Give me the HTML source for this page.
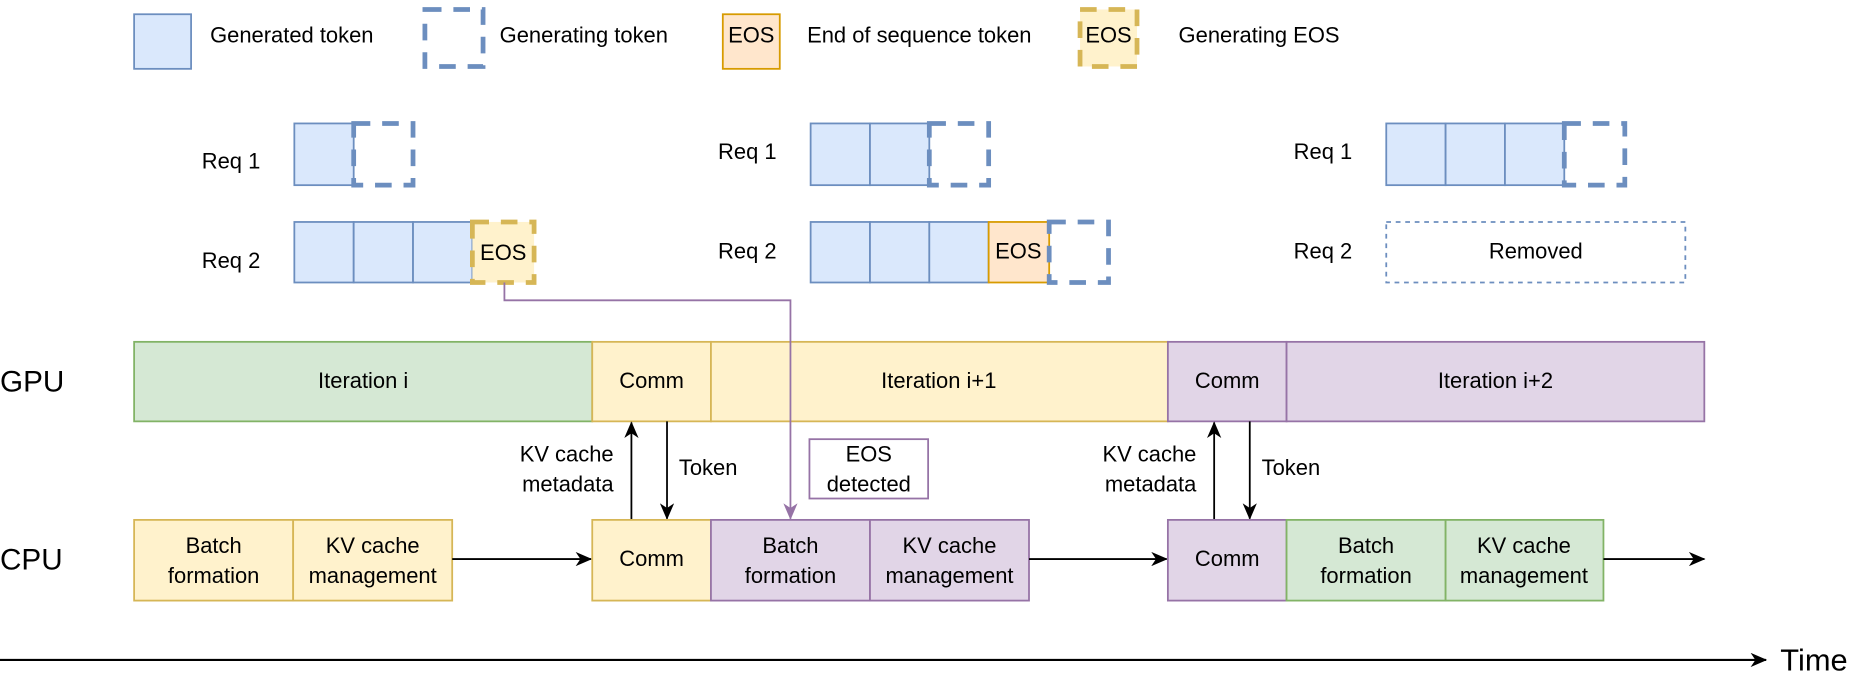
<!DOCTYPE html>
<html><head><meta charset="utf-8"><style>
html,body{margin:0;padding:0;background:#fff;width:1861px;height:673px;overflow:hidden}
svg{display:block}
text{font-family:"Liberation Sans",Arial,sans-serif;font-size:18.5px;fill:#000}
</style></head><body>
<svg width="1861" height="673" viewBox="0 0 1568 567" preserveAspectRatio="none" xmlns="http://www.w3.org/2000/svg">
<defs>
<marker id="ah" markerWidth="14" markerHeight="12" refX="13" refY="6" orient="auto" markerUnits="userSpaceOnUse"><path d="M0,0 L14,6 L0,12 L4,6 z" fill="#000"/></marker>
<marker id="ahp" markerWidth="14" markerHeight="12" refX="13" refY="6" orient="auto" markerUnits="userSpaceOnUse"><path d="M0,0 L14,6 L0,12 L4,6 z" fill="#9673a6"/></marker>
</defs>
<!-- legend -->
<rect x="113" y="12" width="48" height="46" fill="#dae8fc" stroke="#6c8ebf" stroke-width="1.5"/>
<text x="177" y="36">Generated token</text>
<rect x="358" y="8" width="49" height="48" fill="none" stroke="#6c8ebf" stroke-width="4" stroke-dasharray="14 10"/>
<text x="421" y="36">Generating token</text>
<rect x="609" y="12" width="48" height="46" fill="#ffe6cc" stroke="#d79b00" stroke-width="1.5"/>
<text x="633" y="36" text-anchor="middle">EOS</text>
<text x="680" y="36">End of sequence token</text>
<rect x="910" y="8" width="48" height="48" fill="#fff2cc" stroke="#d6b656" stroke-width="4" stroke-dasharray="14 10"/>
<text x="934" y="36" text-anchor="middle">EOS</text>
<text x="993" y="36">Generating EOS</text>

<!-- column 1 -->
<text x="170" y="142">Req 1</text>
<rect x="248" y="104" width="50" height="52" fill="#dae8fc" stroke="#6c8ebf" stroke-width="1.5"/>
<rect x="298" y="104" width="50" height="52" fill="none" stroke="#6c8ebf" stroke-width="4" stroke-dasharray="14 10"/>
<text x="170" y="226">Req 2</text>
<rect x="248" y="187" width="50" height="51" fill="#dae8fc" stroke="#6c8ebf" stroke-width="1.5"/>
<rect x="298" y="187" width="50" height="51" fill="#dae8fc" stroke="#6c8ebf" stroke-width="1.5"/>
<rect x="348" y="187" width="50" height="51" fill="#dae8fc" stroke="#6c8ebf" stroke-width="1.5"/>
<rect x="398" y="187" width="52" height="51" fill="#fff2cc" stroke="#d6b656" stroke-width="4" stroke-dasharray="14 10"/>
<text x="424" y="219" text-anchor="middle">EOS</text>

<!-- column 2 -->
<text x="605" y="134">Req 1</text>
<rect x="683" y="104" width="50" height="52" fill="#dae8fc" stroke="#6c8ebf" stroke-width="1.5"/>
<rect x="733" y="104" width="50" height="52" fill="#dae8fc" stroke="#6c8ebf" stroke-width="1.5"/>
<rect x="783" y="104" width="50" height="52" fill="none" stroke="#6c8ebf" stroke-width="4" stroke-dasharray="14 10"/>
<text x="605" y="218">Req 2</text>
<rect x="683" y="187" width="50" height="51" fill="#dae8fc" stroke="#6c8ebf" stroke-width="1.5"/>
<rect x="733" y="187" width="50" height="51" fill="#dae8fc" stroke="#6c8ebf" stroke-width="1.5"/>
<rect x="783" y="187" width="50" height="51" fill="#dae8fc" stroke="#6c8ebf" stroke-width="1.5"/>
<rect x="833" y="187" width="51" height="51" fill="#ffe6cc" stroke="#d79b00" stroke-width="1.5"/>
<text x="858" y="218" text-anchor="middle">EOS</text>
<rect x="884" y="187" width="50" height="51" fill="none" stroke="#6c8ebf" stroke-width="4" stroke-dasharray="14 10"/>

<!-- column 3 -->
<text x="1090" y="134">Req 1</text>
<rect x="1168" y="104" width="50" height="52" fill="#dae8fc" stroke="#6c8ebf" stroke-width="1.5"/>
<rect x="1218" y="104" width="50" height="52" fill="#dae8fc" stroke="#6c8ebf" stroke-width="1.5"/>
<rect x="1268" y="104" width="50" height="52" fill="#dae8fc" stroke="#6c8ebf" stroke-width="1.5"/>
<rect x="1318" y="104" width="51" height="52" fill="none" stroke="#6c8ebf" stroke-width="4" stroke-dasharray="14 10"/>
<text x="1090" y="218">Req 2</text>
<rect x="1168" y="187" width="252" height="51" fill="none" stroke="#6c8ebf" stroke-width="1.5" stroke-dasharray="4 4"/>
<text x="1294" y="218" text-anchor="middle">Removed</text>

<!-- GPU -->
<text x="0" y="330" style="font-size:25px">GPU</text>
<rect x="113" y="288" width="386" height="67" fill="#d5e8d4" stroke="#82b366" stroke-width="1.5"/>
<text x="306" y="327" text-anchor="middle">Iteration i</text>
<rect x="499" y="288" width="100" height="67" fill="#fff2cc" stroke="#d6b656" stroke-width="1.5"/>
<text x="549" y="327" text-anchor="middle">Comm</text>
<rect x="599" y="288" width="385" height="67" fill="#fff2cc" stroke="#d6b656" stroke-width="1.5"/>
<text x="791" y="327" text-anchor="middle">Iteration i+1</text>
<rect x="984" y="288" width="100" height="67" fill="#e1d5e7" stroke="#9673a6" stroke-width="1.5"/>
<text x="1034" y="327" text-anchor="middle">Comm</text>
<rect x="1084" y="288" width="352" height="67" fill="#e1d5e7" stroke="#9673a6" stroke-width="1.5"/>
<text x="1260" y="327" text-anchor="middle">Iteration i+2</text>

<!-- purple connector -->
<path d="M425,238 V253 H666 V437" fill="none" stroke="#9673a6" stroke-width="1.5" marker-end="url(#ahp)"/>

<!-- middle arrows -->
<line x1="532" y1="438" x2="532" y2="356" stroke="#000" stroke-width="1.5" marker-end="url(#ah)"/>
<line x1="562" y1="355" x2="562" y2="437" stroke="#000" stroke-width="1.5" marker-end="url(#ah)"/>
<text x="517" y="389" text-anchor="end">KV cache</text>
<text x="517" y="414" text-anchor="end">metadata</text>
<text x="572" y="400">Token</text>
<rect x="682" y="370" width="100" height="50" fill="#fff" stroke="#9673a6" stroke-width="1.5"/>
<text x="732" y="389" text-anchor="middle">EOS</text>
<text x="732" y="414" text-anchor="middle">detected</text>
<line x1="1023" y1="438" x2="1023" y2="356" stroke="#000" stroke-width="1.5" marker-end="url(#ah)"/>
<line x1="1053" y1="355" x2="1053" y2="437" stroke="#000" stroke-width="1.5" marker-end="url(#ah)"/>
<text x="1008" y="389" text-anchor="end">KV cache</text>
<text x="1008" y="414" text-anchor="end">metadata</text>
<text x="1063" y="400">Token</text>

<!-- CPU -->
<text x="0" y="480" style="font-size:25px">CPU</text>
<rect x="113" y="438" width="134" height="68" fill="#fff2cc" stroke="#d6b656" stroke-width="1.5"/>
<text x="180" y="466" text-anchor="middle">Batch</text><text x="180" y="491" text-anchor="middle">formation</text>
<rect x="247" y="438" width="134" height="68" fill="#fff2cc" stroke="#d6b656" stroke-width="1.5"/>
<text x="314" y="466" text-anchor="middle">KV cache</text><text x="314" y="491" text-anchor="middle">management</text>
<line x1="381" y1="471" x2="498" y2="471" stroke="#000" stroke-width="1.5" marker-end="url(#ah)"/>
<rect x="499" y="438" width="100" height="68" fill="#fff2cc" stroke="#d6b656" stroke-width="1.5"/>
<text x="549" y="477" text-anchor="middle">Comm</text>
<rect x="599" y="438" width="134" height="68" fill="#e1d5e7" stroke="#9673a6" stroke-width="1.5"/>
<text x="666" y="466" text-anchor="middle">Batch</text><text x="666" y="491" text-anchor="middle">formation</text>
<rect x="733" y="438" width="134" height="68" fill="#e1d5e7" stroke="#9673a6" stroke-width="1.5"/>
<text x="800" y="466" text-anchor="middle">KV cache</text><text x="800" y="491" text-anchor="middle">management</text>
<line x1="867" y1="471" x2="983" y2="471" stroke="#000" stroke-width="1.5" marker-end="url(#ah)"/>
<rect x="984" y="438" width="100" height="68" fill="#e1d5e7" stroke="#9673a6" stroke-width="1.5"/>
<text x="1034" y="477" text-anchor="middle">Comm</text>
<rect x="1084" y="438" width="134" height="68" fill="#d5e8d4" stroke="#82b366" stroke-width="1.5"/>
<text x="1151" y="466" text-anchor="middle">Batch</text><text x="1151" y="491" text-anchor="middle">formation</text>
<rect x="1218" y="438" width="133" height="68" fill="#d5e8d4" stroke="#82b366" stroke-width="1.5"/>
<text x="1284" y="466" text-anchor="middle">KV cache</text><text x="1284" y="491" text-anchor="middle">management</text>
<line x1="1351" y1="471" x2="1436" y2="471" stroke="#000" stroke-width="1.5" marker-end="url(#ah)"/>

<!-- time axis -->
<line x1="0" y1="556" x2="1488" y2="556" stroke="#000" stroke-width="1.8" marker-end="url(#ah)"/>
<text x="1500" y="565" style="font-size:26px">Time</text>
</svg>
</body></html>
